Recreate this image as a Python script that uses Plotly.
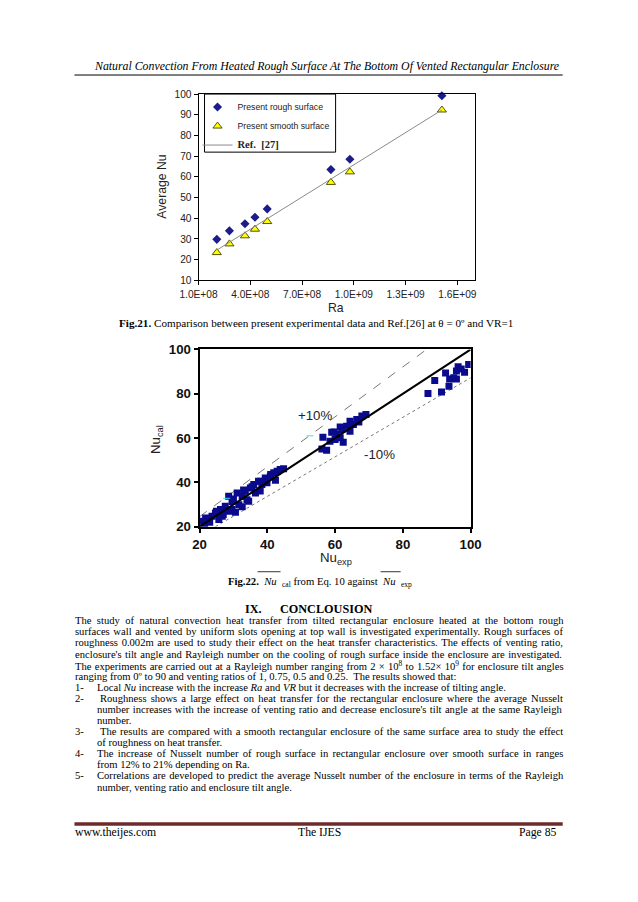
import re
import plotly.graph_objects as go

W, H = 638, 902
BODY_MARGIN = 8  # default page margin around the plot div
FW, FH = W - 2 * BODY_MARGIN, H - 2 * BODY_MARGIN
# empirical capture transform observed for the rendered page
SY, OFFY = 0.9817, 8.2
SX1, OFFX1 = 0.9817, 7.9
SX2, OFFX2 = 0.969, 12.3
KT = 0.99  # observed horizontal scale of rendered text widths

# ---------------- Fig.21 data ----------------
ra_rough = [2.06e8, 2.79e8, 3.69e8, 4.27e8, 4.98e8, 8.67e8, 9.77e8, 1.51e9]
nu_rough = [29.8, 33.9, 37.3, 40.5, 44.5, 63.5, 68.5, 99.2]
ra_smooth = [2.06e8, 2.79e8, 3.69e8, 4.27e8, 4.98e8, 8.67e8, 9.77e8, 1.51e9]
nu_smooth = [23.4, 27.6, 31.5, 34.7, 38.4, 57.3, 62.4, 92.3]
ref_ra = [2.06e8, 1.51e9]
ref_nu = [24.6, 92.3]
fig21_xticks = [1e8, 4e8, 7e8, 1e9, 1.3e9, 1.6e9]
fig21_xtick_labels = ["1.0E+08", "4.0E+08", "7.0E+08", "1.0E+09", "1.3E+09", "1.6E+09"]
fig21_yticks = [10, 20, 30, 40, 50, 60, 70, 80, 90, 100]

# ---------------- Fig.22 data ----------------
nu_exp = [20.8, 21.8, 22.8, 23.7, 24.7, 25.7, 26.2, 26.7, 27.6, 28.6, 28.6, 29.6, 29.6,
          30.6, 31.1, 31.6, 32.6, 32.6, 33.5, 34.0, 34.5, 35.0, 36.0, 36.5, 37.4, 37.9,
          38.4, 39.4, 39.9, 40.9, 41.9, 42.4, 42.9, 43.8, 44.8, 21.5, 23.0, 25.0, 27.0,
          30.0, 33.0, 35.5, 38.0, 41.0,
          56.4, 56.1, 57.5, 59.0, 58.5, 60.0, 60.5, 61.5, 62.0, 62.4, 63.4, 64.4, 64.4,
          65.4, 66.4, 67.9, 69.1, 67.0, 61.5, 59.7,
          87.4, 89.4, 91.4, 92.6, 93.6, 93.8, 95.0, 95.8, 95.8, 96.3, 97.2, 98.2, 99.4]
nu_cal = [22.4, 23.9, 23.2, 24.7, 26.2, 23.2, 27.7, 24.7, 29.2, 26.9, 33.7, 31.4, 27.7,
          26.5, 35.2, 29.9, 33.7, 29.0, 36.0, 32.2, 31.5, 37.5, 39.0, 35.2, 40.5, 36.1,
          39.0, 42.0, 39.8, 42.7, 44.3, 41.0, 45.0, 45.8, 46.1, 21.0, 22.0, 27.0, 25.5,
          32.5, 36.5, 38.0, 40.5, 43.5,
          60.4, 55.1, 54.5, 62.6, 58.6, 59.3, 61.6, 60.1, 63.8, 58.1, 65.3, 63.1, 67.6,
          66.1, 68.4, 69.9, 70.6, 67.2, 65.0, 62.7,
          80.1, 86.0, 80.8, 89.4, 83.4, 86.7, 87.2, 86.7, 90.2, 92.2, 91.2, 89.7, 93.2]
cyan_exp = [28.0, 52.6]
cyan_cal = [32.8, 61.0]
equal_line = [20, 100]
plus10_x = [20, 87]
plus10_y = [24.5, 100]
minus10_x = [24.7, 100]
minus10_y = [20, 87.2]
fig22_ticks = [20, 40, 60, 80, 100]

# ---------------- page text ----------------
header_text = "Natural Convection From Heated Rough Surface At The Bottom Of Vented Rectangular Enclosure"
fig21_caption = "<b>Fig.21.</b> Comparison between present experimental data and Ref.[26] at θ = 0º and VR=1"
fig22_caption = "<b>Fig.22.</b>  <i>Nu</i>  <sub>cal</sub> from Eq. 10 against  <i>Nu</i>  <sub>exp</sub>"
section_title = "<b>IX.      CONCLOUSION</b>"
# (text, number label, x start, justified)
body_lines = [
    ("The study of natural convection heat transfer from tilted rectangular enclosure heated at the bottom rough", "", 75, True),
    ("surfaces wall and vented by uniform slots opening at top wall is investigated experimentally. Rough surfaces of", "", 75, True),
    ("roughness 0.002m are used to study their effect on the heat transfer characteristics. The effects of venting ratio,", "", 75, True),
    ("enclosure's tilt angle and Rayleigh number on the cooling of rough surface inside the enclosure are investigated.", "", 75, True),
    ("The experiments are carried out at a Rayleigh number ranging from 2 × 10<sup>8</sup> to 1.52× 10<sup>9</sup> for enclosure tilt angles", "", 75, True),
    ("ranging from 0º to 90 and venting ratios of 1, 0.75, 0.5 and 0.25.  The results showed that:", "", 75, False),
    ("Local <i>Nu</i> increase with the increase <i>Ra</i> and <i>VR</i> but it decreases with the increase of tilting angle.", "1-", 97, False),
    ("Roughness shows a large effect on heat transfer for the rectangular enclosure where the average Nusselt", "2-", 100, True),
    ("number increases with the increase of venting ratio and decrease enclosure's tilt angle at the same Rayleigh", "", 97, True),
    ("number.", "", 97, False),
    ("The results are compared with a smooth rectangular enclosure of the same surface area to study the effect", "3-", 100, True),
    ("of roughness on heat transfer.", "", 97, False),
    ("The increase of Nusselt number of rough surface in rectangular enclosure over smooth surface in ranges", "4-", 97, True),
    ("from 12% to 21% depending on Ra.", "", 97, False),
    ("Correlations are developed to predict the average Nusselt number of the enclosure in terms of the Rayleigh", "5-", 97, True),
    ("number, venting ratio and enclosure tilt angle.", "", 97, False),
]
footer_left, footer_mid, footer_right = "www.theijes.com", "The IJES", "Page 85"

# Times (Liberation Serif) advance widths, 1/1000 em
TIMES_W = {" ": 250, "!": 333, "%": 833, "'": 333, "(": 333, ")": 333, ",": 250, "-": 333,
           ".": 250, "/": 278, ":": 278, ";": 278, "×": 564, "º": 310, "[": 333, "]": 333,
           "A": 722, "B": 667, "C": 667, "D": 722, "E": 611, "F": 556, "G": 722, "H": 722,
           "I": 333, "J": 389, "K": 722, "L": 611, "M": 889, "N": 722, "O": 722, "P": 556,
           "Q": 722, "R": 667, "S": 556, "T": 611, "U": 722, "V": 722, "W": 944, "X": 722,
           "Y": 722, "Z": 611, "a": 444, "b": 500, "c": 444, "d": 500, "e": 444, "f": 333,
           "g": 500, "h": 500, "i": 278, "j": 278, "k": 500, "l": 278, "m": 778, "n": 500,
           "o": 500, "p": 500, "q": 500, "r": 333, "s": 389, "t": 278, "u": 500, "v": 500,
           "w": 722, "x": 500, "y": 500, "z": 444}


def em_width(html):
    total = 0.0
    for m in re.finditer(r"([^<]+)|<sup>([^<]*)</sup>|<[^>]+>", html):
        if m.group(1) is not None:
            part, scale = m.group(1), 1.0
        elif m.group(2) is not None:
            part, scale = m.group(2), 0.7
        else:
            continue
        txt = re.sub(r" +", " ", part)
        total += scale * sum(TIMES_W.get(c, 500) for c in txt) / 1000.0
    return total


def px(x):
    t = (x - OFFX2) / SX2
    i = (t - OFFX1) / SX1
    return (i - BODY_MARGIN) / FW


def py(y):
    i = (y - OFFY) / SY
    return 1 - (i - BODY_MARGIN) / FH


def fs(size):
    return round(size / SY, 2)


SERIF = "Liberation Serif, Times New Roman, serif"
SANS = "Liberation Sans, Arial, sans-serif"

fig = go.Figure()

# Fig.21 traces
fig.add_trace(go.Scatter(x=ra_rough, y=nu_rough, mode="markers", name="Present rough surface",
                         marker=dict(symbol="diamond", size=7, color="#1c1c8a"), cliponaxis=False,
                         xaxis="x", yaxis="y"))
fig.add_trace(go.Scatter(x=ra_smooth, y=nu_smooth, mode="markers", name="Present smooth surface",
                         marker=dict(symbol="triangle-up", size=8, color="#ffff00",
                                     line=dict(color="#555500", width=1)),
                         xaxis="x", yaxis="y"))
fig.add_trace(go.Scatter(x=ref_ra, y=ref_nu, mode="lines",
                         name="<span style='font-family:Liberation Serif;font-size:10.5px'><b>Ref.  [27]</b></span>",
                         line=dict(color="#8a8a8a", width=1), xaxis="x", yaxis="y"))

# Fig.22 traces
fig.add_trace(go.Scatter(x=plus10_x, y=plus10_y, mode="lines", showlegend=False,
                         line=dict(color="#777777", width=1, dash="dash"), xaxis="x2", yaxis="y2"))
fig.add_trace(go.Scatter(x=minus10_x, y=minus10_y, mode="lines", showlegend=False,
                         line=dict(color="#777777", width=1, dash="dot"), xaxis="x2", yaxis="y2"))
fig.add_trace(go.Scatter(x=nu_exp, y=nu_cal, mode="markers", showlegend=False,
                         marker=dict(symbol="square", size=7, color="#0a0a8c"),
                         xaxis="x2", yaxis="y2"))
fig.add_trace(go.Scatter(x=cyan_exp, y=cyan_cal, mode="markers", showlegend=False,
                         marker=dict(symbol="line-ew", size=5, line=dict(color="#40e0e0", width=1)),
                         xaxis="x2", yaxis="y2"))
fig.add_trace(go.Scatter(x=equal_line, y=equal_line, mode="lines", showlegend=False,
                         line=dict(color="black", width=2), xaxis="x2", yaxis="y2"))

axis_common = dict(showgrid=False, zeroline=False, showline=True, linecolor="black",
                   mirror=True, ticks="outside", ticklen=4, tickcolor="black")

fig.update_layout(
    width=FW, height=FH, margin=dict(l=0, r=0, t=0, b=0),
    paper_bgcolor="white", plot_bgcolor="white",
    xaxis=dict(domain=[px(199), px(475)], range=[1e8, 1.7e9], tickvals=fig21_xticks,
               ticktext=fig21_xtick_labels, anchor="y", linewidth=1,
               tickfont=dict(family=SANS, size=fs(10), color="#222"), **axis_common),
    yaxis=dict(domain=[py(281), py(95)], range=[10, 100], tickvals=fig21_yticks,
               anchor="x", linewidth=1,
               tickfont=dict(family=SANS, size=fs(10), color="#222"), **axis_common),
    xaxis2=dict(domain=[px(200), px(471)], range=[20, 100], tickvals=fig22_ticks, anchor="y2",
                linewidth=2, tickwidth=1.5,
                tickfont=dict(family=SANS, size=fs(13), color="#111", weight="bold"), **axis_common),
    yaxis2=dict(domain=[py(527), py(350)], range=[20, 100], tickvals=fig22_ticks, anchor="x2",
                linewidth=2, tickwidth=1.5,
                tickfont=dict(family=SANS, size=fs(13), color="#111", weight="bold"), **axis_common),
    legend=dict(x=px(198), y=py(93.5), xanchor="left", yanchor="top",
                borderwidth=0, bgcolor="rgba(0,0,0,0)",
                font=dict(family=SANS, size=8.7, color="#222"), tracegroupgap=0),
    showlegend=True,
)

ann = []


def add_text(text, x, y, size, family=SERIF, xanchor="left", angle=0, color="black", raw_size=False):
    ann.append(dict(text=text, x=px(x), y=py(y), xref="paper", yref="paper",
                    xanchor=xanchor, yanchor="middle", showarrow=False, textangle=angle,
                    borderpad=0, font=dict(family=family, size=size if raw_size else fs(size), color=color)))


# Header
add_text("<i>" + header_text + "</i>", 327, 67, 11.6, xanchor="center")
# Fig.21 axis titles & caption
add_text("Ra", 336, 309, 12, family=SANS, xanchor="center", color="#222")
add_text("Average Nu", 163, 188, 12, family=SANS, xanchor="center", angle=-90, color="#222")
add_text(fig21_caption, 316, 324, 10.95, xanchor="center")
# Fig.22 axis titles & annotations & caption
add_text("Nu<sub>cal</sub>", 157, 440, 13, family=SANS, xanchor="center", angle=-90, color="#222")
add_text("Nu<sub>exp</sub>", 336, 559, 13, family=SANS, xanchor="center", color="#222")
ann.append(dict(text="+10%", x=54, y=70, xref="x2", yref="y2", showarrow=False,
                font=dict(family=SANS, size=fs(13), color="#222")))
ann.append(dict(text="-10%", x=73, y=52.5, xref="x2", yref="y2", showarrow=False,
                font=dict(family=SANS, size=fs(13), color="#222")))
add_text(fig22_caption, 320, 582, 10.5, xanchor="center")
# Conclusion
add_text(section_title, 309, 609, 12.0, xanchor="center")

RIGHT_EDGE = 559
# paragraph font size (figure px) chosen so the un-justified lines keep their width
f_a = (508 - 97) / (KT * em_width(body_lines[6][0]))
f_b = (447 - 75) / (KT * em_width(body_lines[5][0]))
f_par = round((f_a + f_b) / 2, 2)
line_h = 11.07
y0 = 621
for k, (txt, num, xs, just) in enumerate(body_lines):
    yy = y0 + k * line_h
    if num:
        add_text(num, 75, yy, f_par, raw_size=True)
    if just:
        n_sp = len(re.sub(r"<[^>]+>", "", txt).split()) - 1
        need = (RIGHT_EDGE - xs) / KT
        nat = em_width(txt) * f_par
        ws = max((need - nat) / max(n_sp, 1), 0)
        txt = "<span style='word-spacing:%.2fpx'>%s</span>" % (ws, txt)
    add_text(txt, xs, yy, f_par, raw_size=True)
# Footer
add_text(footer_left, 75, 832, 11.5)
add_text(footer_mid, 320, 832, 11.5, xanchor="center")
add_text(footer_right, 558, 832, 11.5, xanchor="right")

fig.update_layout(annotations=ann)

shapes = [
    # legend frame of Fig.21
    dict(type="rect", xref="paper", yref="paper", x0=px(205), x1=px(336), y0=py(153), y1=py(95),
         line=dict(color="black", width=1), fillcolor="white", layer="below"),
    dict(type="line", xref="paper", yref="paper", x0=px(75), x1=px(563), y0=py(76), y1=py(76),
         line=dict(color="black", width=1)),
    dict(type="line", xref="paper", yref="paper", x0=px(75), x1=px(563), y0=py(824), y1=py(824),
         line=dict(color="#6e2b2b", width=3.5)),
    dict(type="line", xref="paper", yref="paper", x0=px(258), x1=px(281), y0=py(572), y1=py(572),
         line=dict(color="black", width=0.8)),
    dict(type="line", xref="paper", yref="paper", x0=px(381), x1=px(401), y0=py(572), y1=py(572),
         line=dict(color="black", width=0.8)),
]
fig.update_layout(shapes=shapes)

fig.write_html("out.html", config={"displayModeBar": False})
